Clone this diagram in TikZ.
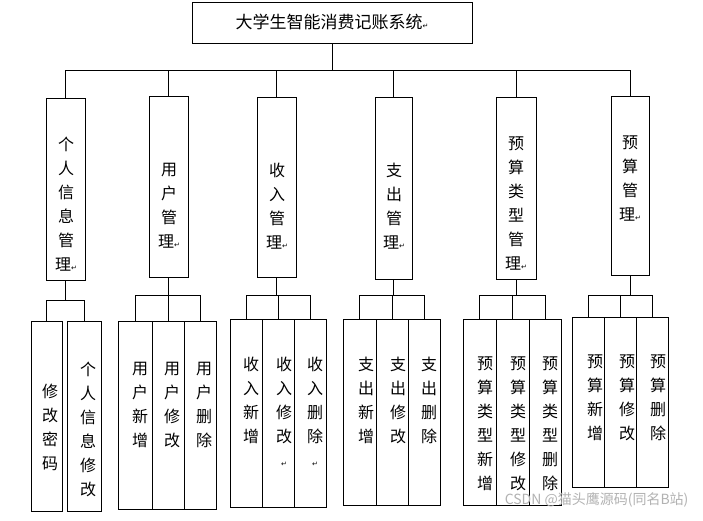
\documentclass[tikz,border=0pt]{standalone}
\usepackage{fontspec}
\newfontfamily\cjk{Noto Sans CJK SC}
\newfontfamily\dv{DejaVu Sans}
\newcommand\tightls{\lineskiplimit=-20pt\relax\lineskip=0pt\relax}
\tikzset{box/.style={draw,line width=0.9pt,inner sep=0pt},
 vtext/.style={font=\cjk\fontsize{16}{24}\selectfont\tightls,align=center,inner sep=0pt,anchor=north},
 ln/.style={line width=0.8pt}}
\newcommand\bx[5]{\node[box,minimum width={(#4-#2)*1pt},minimum height={(#5-#3)*1pt}] (#1) at ({(#2+#4)/2},{(#3+#5)/2}) {};}
\newcommand\vt[3]{\node[vtext] at (#1,{#2-3}) {#3};}
\newcommand\rt{{\dv\fontsize{7}{7}\selectfont ↵}}
\begin{document}
\begin{tikzpicture}[x=1pt,y=-1pt]
\useasboundingbox[fill=white] (0,0) rectangle (703,521);
\bx{top}{192}{2}{472}{43}
\node[font=\cjk\fontsize{17}{20}\selectfont] at (top) {大学生智能消费记账系统\rt};
\bx{a}{46}{98}{85}{280}
\bx{b}{149}{96}{188}{277}
\bx{c}{257}{97}{296}{277}
\bx{d}{375}{97}{412}{279}
\bx{e}{496}{97}{536}{279}
\bx{f}{611}{96}{649}{275}
\vt{66}{140}{个\\人\\信\\息\\管\\理\rt}
\vt{169}{166}{用\\户\\管\\理\rt}
\vt{277}{166}{收\\入\\管\\理\rt}
\vt{394}{166}{支\\出\\管\\理\rt}
\vt{516}{140}{预\\算\\类\\型\\管\\理\rt}
\vt{630}{139}{预\\算\\管\\理\rt}
% level 3
\bx{a1}{31}{321}{62}{511}\bx{a2}{67}{321}{101}{511}
\bx{b1}{118}{321}{152}{509}\bx{b2}{152}{321}{184}{509}\bx{b3}{184}{321}{216}{509}
\bx{c1}{230}{319}{262}{507}\bx{c2}{262}{319}{294}{507}\bx{c3}{294}{319}{326}{507}
\bx{d1}{343}{319}{376}{505}\bx{d2}{376}{319}{408}{505}\bx{d3}{408}{319}{440}{505}
\bx{e1}{463}{319}{496}{505}\bx{e2}{496}{319}{529}{505}\bx{e3}{529}{319}{561}{505}
\bx{f1}{572}{317}{604}{487}\bx{f2}{604}{317}{636}{487}\bx{f3}{636}{317}{668}{487}
\vt{50}{387}{修\\改\\密\\码}
\vt{88}{365}{个\\人\\信\\息\\修\\改}
\vt{140}{365}{用\\户\\新\\增}\vt{172}{365}{用\\户\\修\\改}\vt{204}{365}{用\\户\\删\\除}
\vt{251}{360}{收\\入\\新\\增}\vt{284}{360}{收\\入\\修\\改\\\rt}\vt{315}{360}{收\\入\\删\\除\\\rt}
\vt{366}{360}{支\\出\\新\\增}\vt{398}{360}{支\\出\\修\\改}\vt{429}{360}{支\\出\\删\\除}
\vt{485}{360}{预\\算\\类\\型\\新\\增}\vt{518}{360}{预\\算\\类\\型\\修\\改}\vt{550}{360}{预\\算\\类\\型\\删\\除}
\vt{595}{358}{预\\算\\新\\增}\vt{627}{358}{预\\算\\修\\改}\vt{658}{358}{预\\算\\删\\除}
% connectors
\coordinate (bus) at (0,70);
\draw[ln] (top.south) -- (top.south|-bus);
\draw[ln] (a.north) -- (a.north|-bus) -- (f.north|-bus) -- (f.north);
\foreach \n in {b,c,d,e}{\draw[ln] (\n.north) -- (\n.north|-bus);}
\foreach \p/\y in {a/300,b/295,c/295,d/295,e/295,f/295}{
  \coordinate (s) at (0,\y);
  \draw[ln] (\p.south) -- (\p.south|-s);
}
\draw[ln] (a1.north) -- (a1.north|-0,300) -- (a2.north|-0,300) -- (a2.north);
\foreach \p in {b,c,d,e,f}{
  \draw[ln] (\p1.north) -- (\p1.north|-0,295) -- (\p3.north|-0,295) -- (\p3.north);
  \draw[ln] (\p2.north) -- (\p2.north|-0,295);
}
\node[font=\cjk\fontsize{14}{16}\selectfont,text=gray!60,anchor=east] at (692,500) {CSDN @猫头鹰源码(同名B站)};
\end{tikzpicture}
\end{document}
